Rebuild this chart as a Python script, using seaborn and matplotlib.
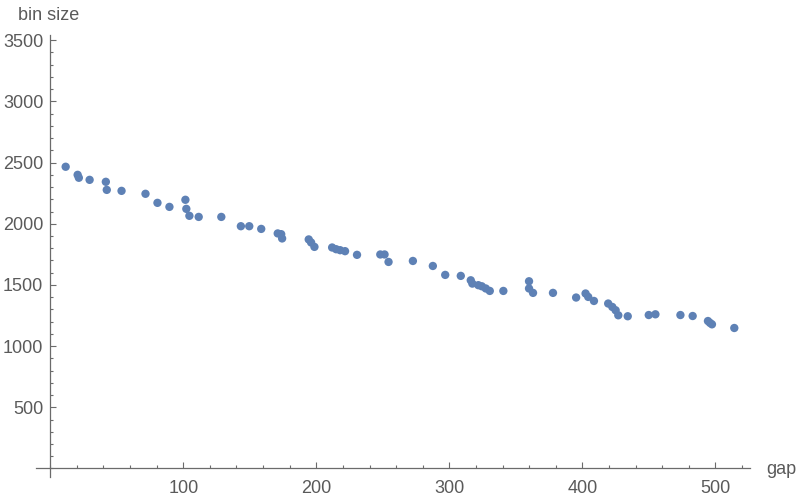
import numpy as np
import pandas as pd
import matplotlib
matplotlib.use("Agg")
import matplotlib.pyplot as plt
import seaborn as sns
from matplotlib.ticker import MultipleLocator

# gap vs bin size
gap = [11.6, 20.6, 21.5, 29.6, 41.8, 42.5, 53.6, 71.6, 80.6, 89.6,
       101.6, 102.3, 104.6, 111.6, 128.6, 143.3, 149.6, 158.6, 171.0, 173.6,
       174.3, 194.3, 196.1, 198.6, 211.9, 214.9, 217.9, 221.6, 230.6, 248.1,
       251.3, 254.3, 272.6, 287.6, 296.9, 308.6, 316.1, 317.3, 321.8, 324.4,
       327.4, 330.4, 340.6, 359.9, 359.9, 362.9, 377.9, 395.3, 402.4, 404.4,
       408.7, 419.4, 422.5, 425.0, 427.0, 434.1, 449.9, 454.9, 473.7, 482.9,
       494.4, 495.9, 497.4, 514.2]
bin_size = [2466, 2400, 2376, 2359, 2343, 2277, 2269, 2245, 2171, 2138,
            2196, 2122, 2065, 2056, 2056, 1980, 1980, 1958, 1921, 1915,
            1880, 1872, 1847, 1811, 1806, 1792, 1784, 1776, 1746, 1749,
            1749, 1688, 1696, 1655, 1582, 1574, 1538, 1511, 1498, 1489,
            1471, 1451, 1451, 1530, 1471, 1435, 1435, 1397, 1430, 1402,
            1369, 1348, 1320, 1293, 1252, 1244, 1254, 1260, 1254, 1246,
            1205, 1190, 1178, 1148]

df = pd.DataFrame({"gap": gap, "bin size": bin_size})

sns.set_style("white")
plt.rcParams['font.family'] = ['Liberation Sans', 'DejaVu Sans']

fig = plt.figure(figsize=(8, 5), dpi=100)
ax = fig.add_axes([0.045, 0.046, 0.8925, 0.884])

sns.scatterplot(data=df, x="gap", y="bin size", ax=ax, color="#5E81B5",
                s=36, edgecolor="none", legend=False)

ax.set_xlim(-10.7, 526)
ax.set_ylim(-70, 3543)

axis_col = "#6b6b6b"
text_col = "#5a5a5a"
for side in ["top", "right"]:
    ax.spines[side].set_visible(False)
ax.spines["left"].set_position(("data", 0))
ax.spines["bottom"].set_position(("data", 0))
for side in ["left", "bottom"]:
    ax.spines[side].set_color(axis_col)
    ax.spines[side].set_linewidth(0.9)

ax.xaxis.set_major_locator(MultipleLocator(100))
ax.xaxis.set_minor_locator(MultipleLocator(20))
ax.yaxis.set_major_locator(MultipleLocator(500))
ax.yaxis.set_minor_locator(MultipleLocator(100))

ax.tick_params(which="both", direction="in", colors=axis_col,
               labelcolor=text_col, labelsize=13)
ax.tick_params(which="major", length=4, width=0.8, pad=5)
ax.tick_params(axis="x", which="major", pad=8)
ax.tick_params(which="minor", length=2.5, width=0.8)
ax.tick_params(axis="x", which="both", bottom=True)
ax.tick_params(axis="y", which="both", left=True)

ax.set_xticks([100, 200, 300, 400, 500])
ax.set_yticks([500, 1000, 1500, 2000, 2500, 3000, 3500])
ax.set_xlabel("")
ax.set_ylabel("")

fig.text(49 / 800, 1 - 15 / 500, "bin size", ha="center", va="center",
         fontsize=13, color=text_col)
fig.text(781 / 800, 1 - 470 / 500, "gap", ha="center", va="center",
         fontsize=13, color=text_col)

fig.savefig("out.png", dpi=100, facecolor="white")
